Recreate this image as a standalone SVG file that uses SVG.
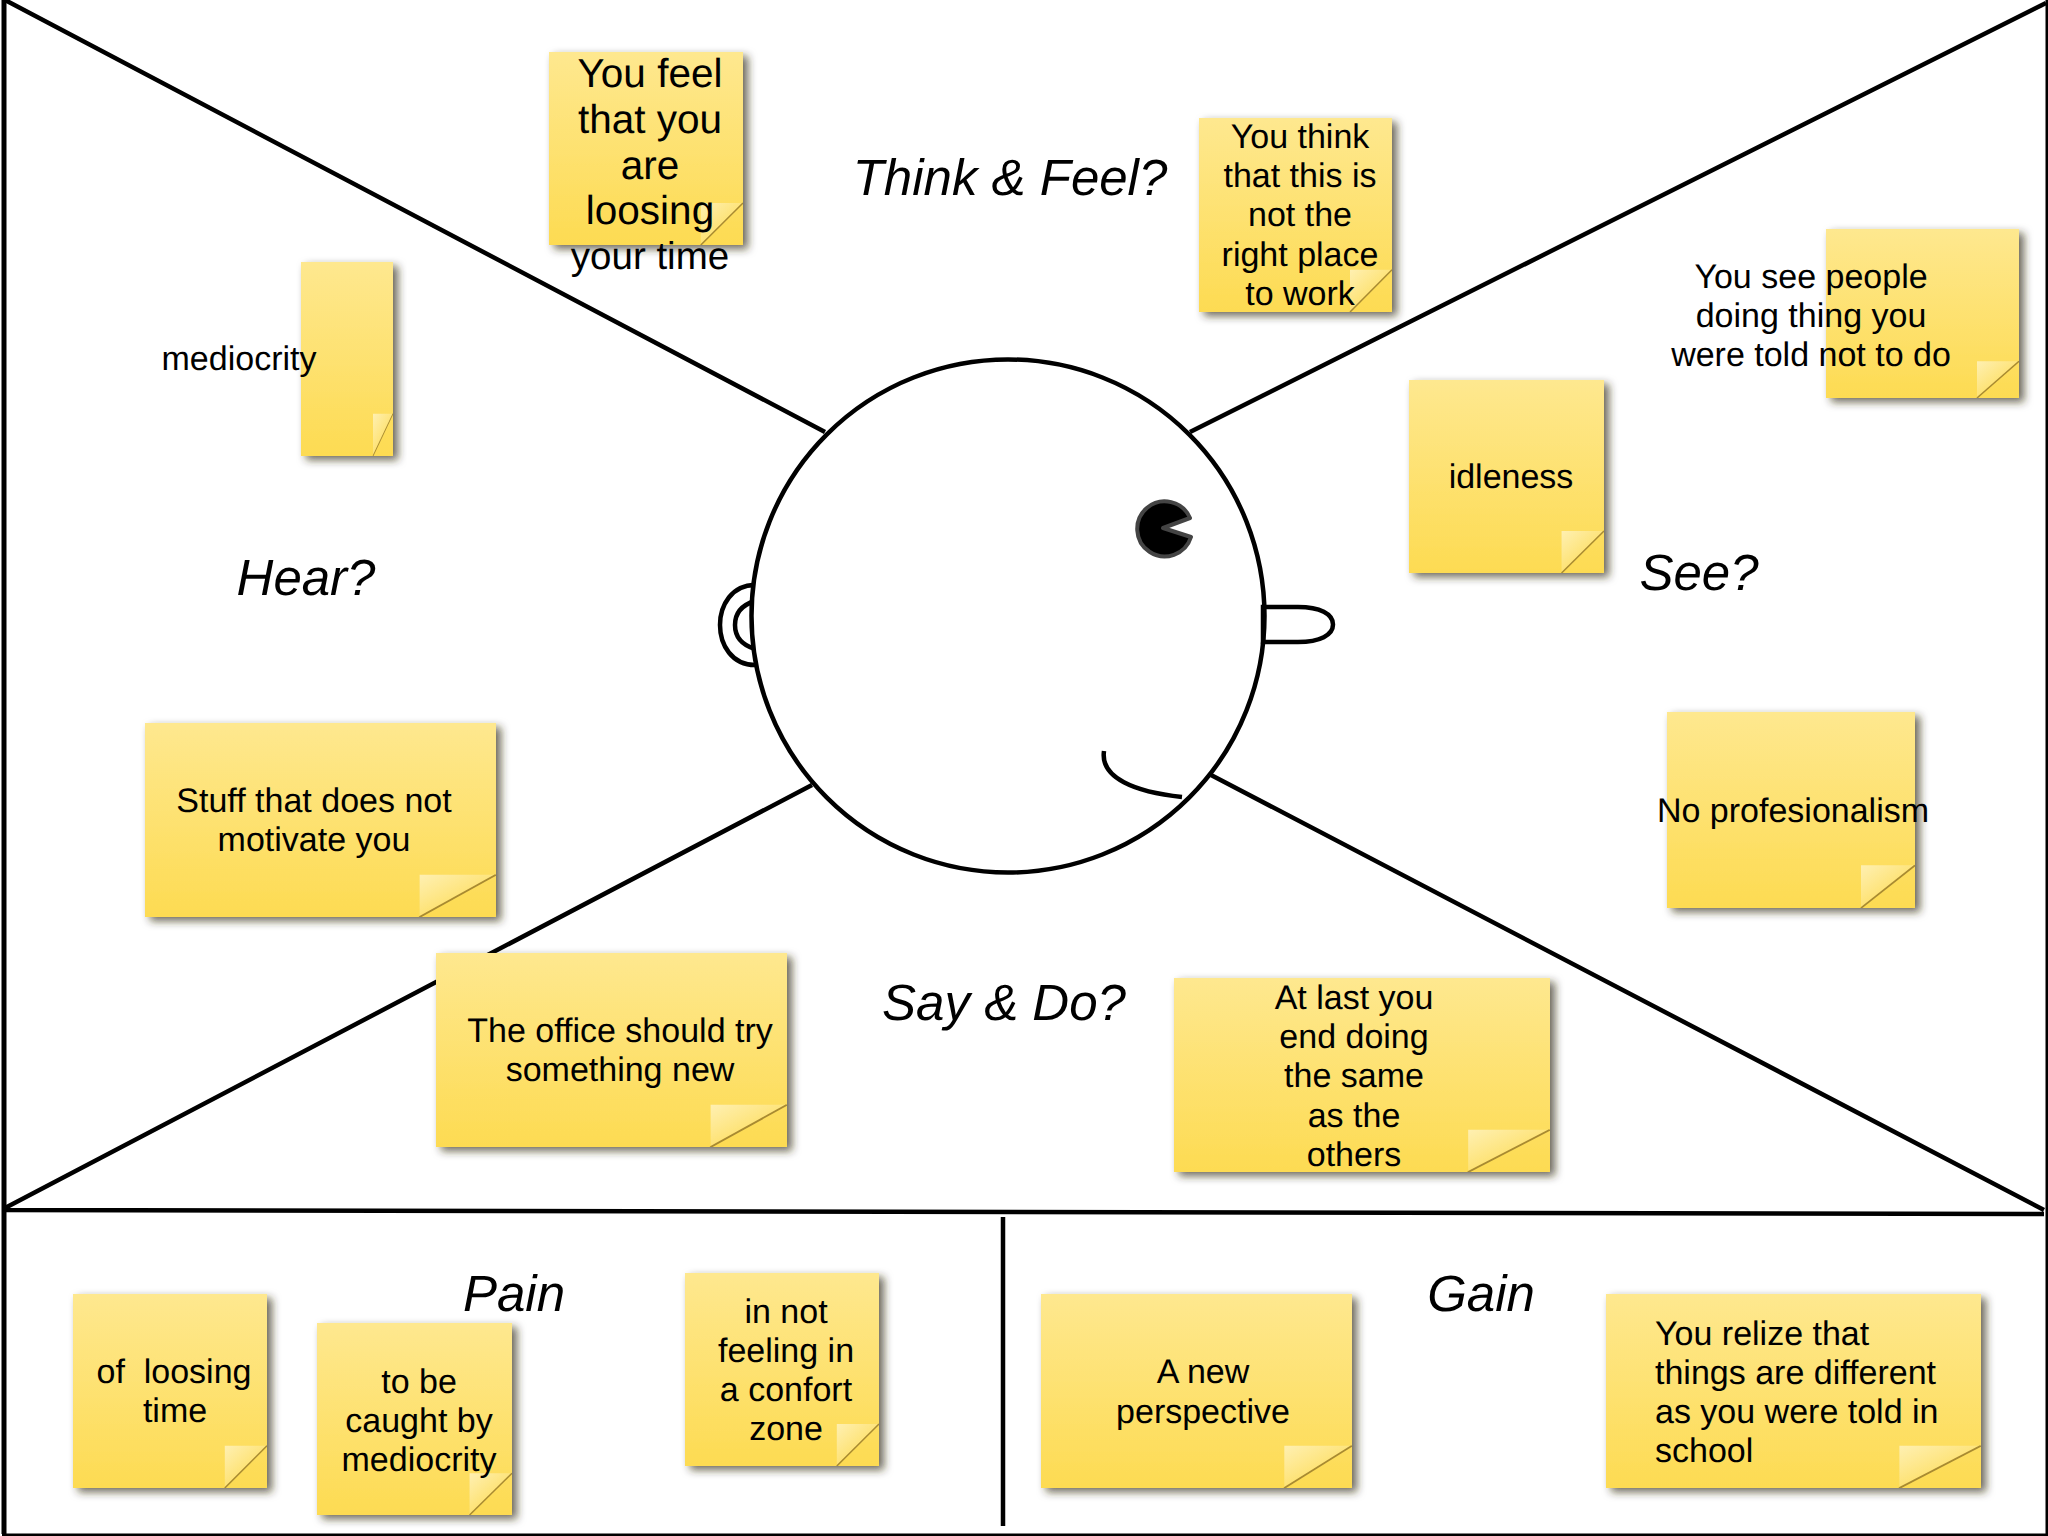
<svg xmlns="http://www.w3.org/2000/svg" width="2048" height="1536" viewBox="0 0 2048 1536">
<style>
.l{fill:none;stroke:#000;stroke-width:4.5}
.h{fill:none;stroke:#000;stroke-width:4.5}
.n{filter:url(#sh)}
text{font-family:"Liberation Sans",Arial,sans-serif;fill:#000;text-anchor:middle;font-size:34px;white-space:pre;text-rendering:geometricPrecision}
.t{font-size:51px;font-style:italic}
.b{font-size:40.500px}
.s{text-anchor:start}
</style>
<defs>
<linearGradient id="y" x1="0" y1="0" x2="0" y2="1"><stop offset="0" stop-color="#fee88f"/><stop offset="1" stop-color="#fddb52"/></linearGradient>
<linearGradient id="p" x1="0" y1="0" x2="1" y2="1"><stop offset="0" stop-color="#fff3c0" stop-opacity=".85"/><stop offset=".55" stop-color="#fff3c0" stop-opacity=".25"/><stop offset="1" stop-color="#fff3c0" stop-opacity="0"/></linearGradient>
<filter id="sh" x="-10%" y="-10%" width="125%" height="125%"><feDropShadow dx="5" dy="4" stdDeviation="4" flood-color="#2e2618" flood-opacity=".7"/></filter>
<symbol id="note" viewBox="0 0 193 193" preserveAspectRatio="none">
<rect width="193" height="193" fill="url(#y)"/>
<path d="M151 151H193L151 193Z" fill="url(#p)"/>
<path d="M193 151L151 193" fill="none" stroke="#a88a30" stroke-width="1.500"/>
</symbol>
</defs>
<rect width="2048" height="1536" fill="#fff"/>
<g id="connectors">
<path class="l" style="stroke-width:5" d="M4 0V1534"/>
<path class="l" style="stroke-width:3" d="M2 1535H2048M2047 0V1536"/>
<path class="l" d="M5 0L825 432M2046 3L1190 432M5 1208L812 785M2044 1210L1211 775M5 1210L2044 1214M1003 1217V1526"/>
</g>
<g id="head">
<path class="h" d="M755 585C732 585 720 605 720 625C720 645 732 665 755 665"/>
<path class="h" d="M755 601C742 605 735 613 735 625C735 637 742 645 755 649"/>
<circle cx="1008" cy="616" r="256.500" fill="#fff" stroke="#000" stroke-width="4.500"/>
<path class="h" d="M1263 607H1298C1320 607 1333 614 1333 624.500C1333 635 1320 642 1298 642H1263Z"/>
<path d="M1190 518A27.500 27.500 0 1 0 1191 537L1163 528Z" fill="#000" stroke="#444" stroke-width="4" stroke-linejoin="round"/>
<path class="h" d="M1104 751C1100 778 1135 792 1182 797"/>
</g>
<g id="n1"><use class="n" href="#note" x="549" y="52" width="194" height="193"/><text class="b" x="650" y="87">You feel</text><text class="b" x="650" y="133">that you</text><text class="b" x="650" y="179">are</text><text class="b" x="650" y="224">loosing</text><text x="650" y="269" style="font-size:38.500px">your time</text></g>
<g id="n2"><use class="n" href="#note" x="1199" y="118" width="193" height="194"/><text x="1300" y="148">You think</text><text x="1300" y="187">that this is</text><text x="1300" y="226">not the</text><text x="1300" y="266">right place</text><text x="1300" y="305">to work</text></g>
<g id="n3"><use class="n" href="#note" x="301" y="262" width="92" height="194"/><text x="239" y="370">mediocrity</text></g>
<g id="n4"><use class="n" href="#note" x="1409" y="380" width="195" height="193"/><text x="1511" y="488">idleness</text></g>
<g id="n5"><use class="n" href="#note" x="1826" y="229" width="193" height="169"/><text x="1811" y="288">You see people</text><text x="1811" y="327">doing thing you</text><text x="1811" y="366">were told not to do</text></g>
<g id="n6"><use class="n" href="#note" x="1667" y="712" width="248" height="196"/><text x="1793" y="822">No profesionalism</text></g>
<g id="n7"><use class="n" href="#note" x="145" y="723" width="351" height="194"/><text x="314" y="812">Stuff that does not</text><text x="314" y="851">motivate you</text></g>
<g id="n8"><use class="n" href="#note" x="436" y="953" width="351" height="194"/><text x="620" y="1042">The office should try</text><text x="620" y="1081">something new</text></g>
<g id="n9"><use class="n" href="#note" x="1174" y="978" width="376" height="194"/><text x="1354" y="1009">At last you</text><text x="1354" y="1048">end doing</text><text x="1354" y="1087">the same</text><text x="1354" y="1127">as the</text><text x="1354" y="1166">others</text></g>
<g id="n10"><use class="n" href="#note" x="73" y="1294" width="194" height="194"/><text x="174" y="1383">of  loosing</text><text x="175" y="1422">time</text></g>
<g id="n11"><use class="n" href="#note" x="317" y="1323" width="195" height="192"/><text x="419" y="1393">to be</text><text x="419" y="1432">caught by</text><text x="419" y="1471">mediocrity</text></g>
<g id="n12"><use class="n" href="#note" x="685" y="1273" width="194" height="193"/><text x="786" y="1323">in not</text><text x="786" y="1362">feeling in</text><text x="786" y="1401">a confort</text><text x="786" y="1440">zone</text></g>
<g id="n13"><use class="n" href="#note" x="1041" y="1294" width="311" height="194"/><text x="1203" y="1383">A new</text><text x="1203" y="1423">perspective</text></g>
<g id="n14"><use class="n" href="#note" x="1606" y="1294" width="375" height="194"/><text class="s" x="1655" y="1345">You relize that</text><text class="s" x="1655" y="1384">things are different</text><text class="s" x="1655" y="1423">as you were told in</text><text class="s" x="1655" y="1462">school</text></g>
<g id="titles">
<text class="t" x="1010" y="195">Think &amp; Feel?</text>
<text class="t" x="306" y="595">Hear?</text>
<text class="t" x="1699" y="590">See?</text>
<text class="t" x="1004" y="1020">Say &amp; Do?</text>
<text class="t" x="514" y="1311">Pain</text>
<text class="t" x="1481" y="1311">Gain</text>
</g>
</svg>
